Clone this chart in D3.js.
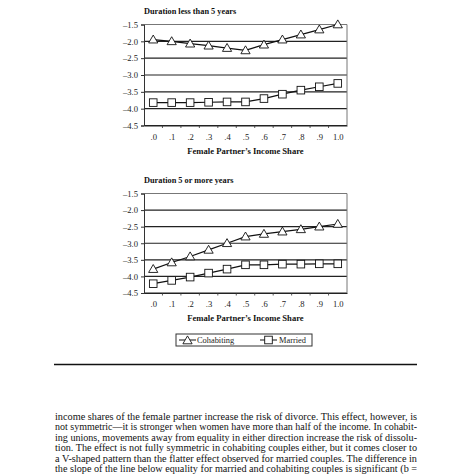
<!DOCTYPE html>
<html><head><meta charset="utf-8">
<script src="https://cdn.jsdelivr.net/npm/d3@7"></script>
<style>
html,body{margin:0;padding:0;background:#fff;}
svg{display:block;}
</style></head>
<body>
<script>
const categories = [".0",".1",".2",".3",".4",".5",".6",".7",".8",".9","1.0"];
const yTicks = [-1.5,-2.0,-2.5,-3.0,-3.5,-4.0,-4.5];
const panelTitles = ["Duration less than 5 years","Duration 5 or more years"];
const xAxisTitle = "Female Partner\u2019s Income Share";
const shortCohabiting = [-1.95,-2.0,-2.07,-2.13,-2.2,-2.27,-2.1,-1.95,-1.8,-1.65,-1.5];
const shortMarried = [-3.82,-3.82,-3.82,-3.81,-3.8,-3.8,-3.7,-3.57,-3.45,-3.35,-3.25];
const longCohabiting = [-3.78,-3.58,-3.4,-3.2,-3.0,-2.8,-2.72,-2.65,-2.58,-2.5,-2.42];
const longMarried = [-4.22,-4.12,-4.02,-3.9,-3.78,-3.65,-3.65,-3.63,-3.63,-3.62,-3.62];
const seriesNames = ["Cohabiting","Married"];
const paragraph = [
"income shares of the female partner increase the risk of divorce. This effect, however, is",
"not symmetric\u2014it is stronger when women have more than half of the income. In cohabit-",
"ing unions, movements away from equality in either direction increase the risk of dissolu-",
"tion. The effect is not fully symmetric in cohabiting couples either, but it comes closer to",
"a V-shaped pattern than the flatter effect observed for married couples. The difference in",
"the slope of the line below equality for married and cohabiting couples is significant (b ="
];

const W = 474, H = 474;
const svg = d3.select("body").append("svg").attr("width",W).attr("height",H);
svg.append("rect").attr("width",W).attr("height",H).attr("fill","#fff");
const serif = "'Liberation Serif','DejaVu Serif',serif";

const x = d3.scalePoint().domain(categories).range([144,347]).padding(0.5);

function triangle(g, cx, cy){
  const s = 4.6;
  g.append("path").attr("d",`M${cx},${cy-s}L${cx+s},${cy+s*0.72}L${cx-s},${cy+s*0.72}Z`)
   .attr("fill","#fff").attr("stroke","#111").attr("stroke-width",0.9);
}
function square(g, cx, cy){
  const s = 3.8;
  g.append("rect").attr("x",cx-s).attr("y",cy-s).attr("width",2*s).attr("height",2*s)
   .attr("fill","#fff").attr("stroke","#111").attr("stroke-width",0.9);
}

function panel(top, bottom, title, cohab, married){
  const y = d3.scaleLinear().domain([-4.5,-1.5]).range([bottom, top]);
  const g = svg.append("g");
  g.append("text").attr("x",144).attr("y",top-11).text(title)
   .attr("font-family",serif).attr("font-weight","bold").attr("font-size",8.3).attr("fill","#111");
  g.selectAll("line.grid").data(yTicks).enter().append("line")
   .attr("x1",144).attr("x2",347).attr("y1",d=>y(d)).attr("y2",d=>y(d))
   .attr("stroke",d=>(d===-1.5)?"#777":"#222").attr("stroke-width",d=>(d===-1.5)?1:1.2);
  g.append("line").attr("x1",347).attr("x2",347).attr("y1",top).attr("y2",bottom)
   .attr("stroke","#777").attr("stroke-width",1);
  const ya = g.append("g").attr("transform","translate(144,0)")
   .call(d3.axisLeft(y).tickValues(yTicks).tickSize(3).tickPadding(3)
   .tickFormat(d=>"\u2013"+Math.abs(d).toFixed(1)));
  ya.select(".domain").attr("stroke","#333").attr("stroke-width",1);
  ya.selectAll(".tick line").attr("stroke","#333");
  ya.selectAll("text").attr("font-family",serif).attr("font-size",8.6).attr("fill","#222");
  const xa = g.append("g").attr("transform",`translate(0,${bottom})`)
   .call(d3.axisBottom(x).tickSize(0).tickPadding(8));
  xa.select(".domain").attr("stroke","#222").attr("stroke-width",1.2);
  xa.selectAll("text").attr("font-family",serif).attr("font-size",8.6).attr("fill","#222");
  const step = x.step();
  g.selectAll("line.xt").data(categories.slice(0,-1)).enter().append("line")
   .attr("x1",d=>x(d)+step/2).attr("x2",d=>x(d)+step/2)
   .attr("y1",bottom).attr("y2",bottom+2.5).attr("stroke","#333").attr("stroke-width",0.8);
  g.append("text").attr("x",245.5).attr("y",bottom+28).attr("text-anchor","middle")
   .text(xAxisTitle).attr("font-family",serif).attr("font-weight","bold").attr("font-size",8.6).attr("fill","#111");
  const line = d3.line().x((d,i)=>x(categories[i])).y(d=>y(d));
  [cohab, married].forEach(s=>{
    g.append("path").attr("d",line(s)).attr("fill","none").attr("stroke","#111").attr("stroke-width",1.2);
  });
  cohab.forEach((v,i)=>triangle(g,x(categories[i]),y(v)));
  married.forEach((v,i)=>square(g,x(categories[i]),y(v)));
}

panel(24.5,125.5,panelTitles[0],shortCohabiting,shortMarried);
panel(193.5,293,panelTitles[1],longCohabiting,longMarried);

const lg = svg.append("g");
lg.append("rect").attr("x",176).attr("y",334).attr("width",136).attr("height",12)
  .attr("fill","#fff").attr("stroke","#333").attr("stroke-width",1);
lg.append("line").attr("x1",179).attr("x2",196).attr("y1",340).attr("y2",340).attr("stroke","#111").attr("stroke-width",1);
triangle(lg,187.5,340.5);
lg.append("text").attr("x",197).attr("y",343).text(seriesNames[0])
  .attr("font-family",serif).attr("font-size",8.4).attr("fill","#222");
lg.append("line").attr("x1",260).attr("x2",277).attr("y1",340).attr("y2",340).attr("stroke","#111").attr("stroke-width",1);
square(lg,268.5,340);
lg.append("text").attr("x",279).attr("y",343).text(seriesNames[1])
  .attr("font-family",serif).attr("font-size",8.4).attr("fill","#222");

svg.append("line").attr("x1",54).attr("x2",417).attr("y1",364.5).attr("y2",364.5)
  .attr("stroke","#111").attr("stroke-width",1.5);

svg.selectAll("text.para").data(paragraph).enter().append("text")
  .attr("class","para")
  .attr("x",55).attr("y",(d,i)=>420+i*10.45)
  .attr("textLength",362).attr("lengthAdjust","spacingAndGlyphs")
  .attr("font-family",serif).attr("font-size",10.6).attr("fill","#111")
  .text(d=>d);
</script>
</body></html>
